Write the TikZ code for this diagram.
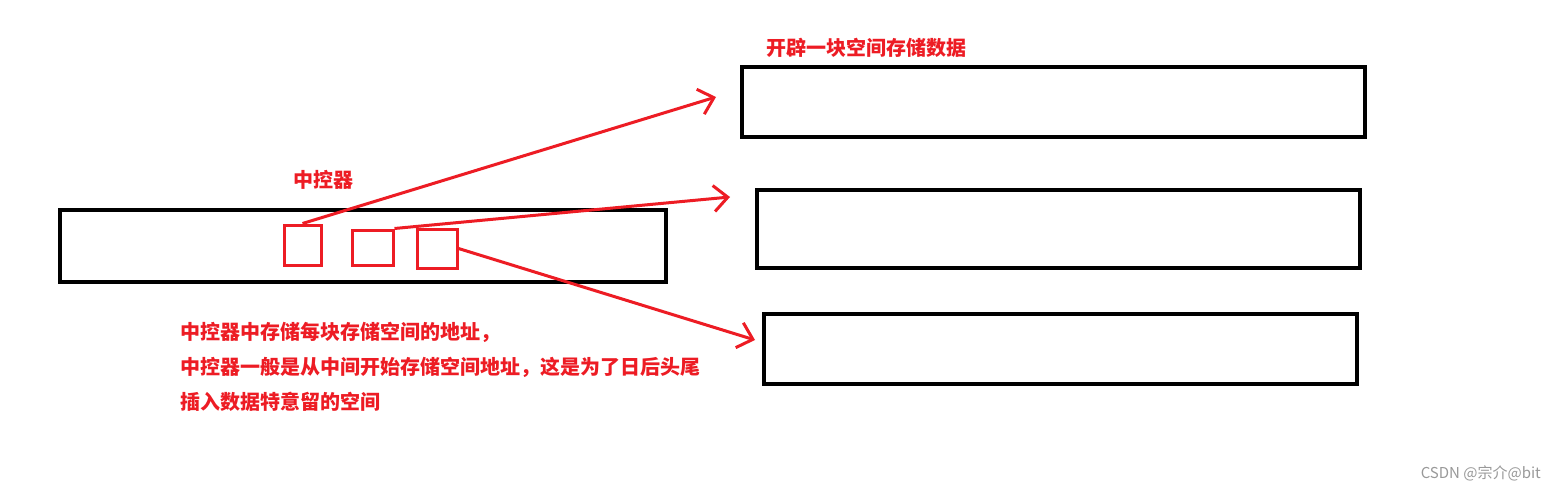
\documentclass[tikz,border=0pt]{standalone}
\usepackage{fontspec}
\newfontfamily\cjk{Noto Sans CJK SC}
\usetikzlibrary{arrows.meta}
\definecolor{myred}{HTML}{ED1C24}
\begin{document}
\begin{tikzpicture}[x=1pt,y=-1pt,
  blk/.style={draw=black,line width=3.5pt},
  rbox/.style={draw=myred,line width=3pt},
  arr/.style={draw=myred,line width=3pt,-{Straight Barb[length=14pt,width=26pt,line width=3pt]}},
  lbl/.style={text=myred,font=\cjk\bfseries\fontsize{20pt}{24pt}\selectfont,anchor=west,inner sep=0pt}]
\useasboundingbox[fill=white] (0,0) rectangle (1556,492);
\draw[blk] (60,210) rectangle (666,282);
\draw[blk] (742,67) rectangle (1365,137);
\draw[blk] (757,190) rectangle (1360,268);
\draw[blk] (764,314) rectangle (1357,384);
\node[rbox,minimum width=37pt,minimum height=40pt,inner sep=0pt] (b1) at (302.5,245) {};
\node[rbox,minimum width=41pt,minimum height=35pt,inner sep=0pt] (b2) at (372.5,247.5) {};
\node[rbox,minimum width=40pt,minimum height=39pt,inner sep=0pt] (b3) at (437,248.5) {};
\coordinate (t1) at (716,97);
\coordinate (t2) at (730,197);
\coordinate (t3) at (755,340);
\draw[arr] (b1.north) -- (t1);
\draw[arr] (b2.north east) -- (t2);
\draw[arr] (b3.east) -- (t3);
\node[lbl] (l1) at (766,48) {开辟一块空间存储数据};
\node[lbl] (l2) at (293,180) {中控器};
\node[lbl] (l3) at (180,332) {中控器中存储每块存储空间的地址，};
\node[lbl] (l4) at (180,367) {中控器一般是从中间开始存储空间地址，这是为了日后头尾};
\node[lbl] (l5) at (180,402) {插入数据特意留的空间};
\node[text=gray!80,font=\cjk\fontsize{15pt}{18pt}\selectfont,anchor=east,inner sep=0pt] (w) at (1541,473) {CSDN @宗介@bit};
\end{tikzpicture}
\end{document}
